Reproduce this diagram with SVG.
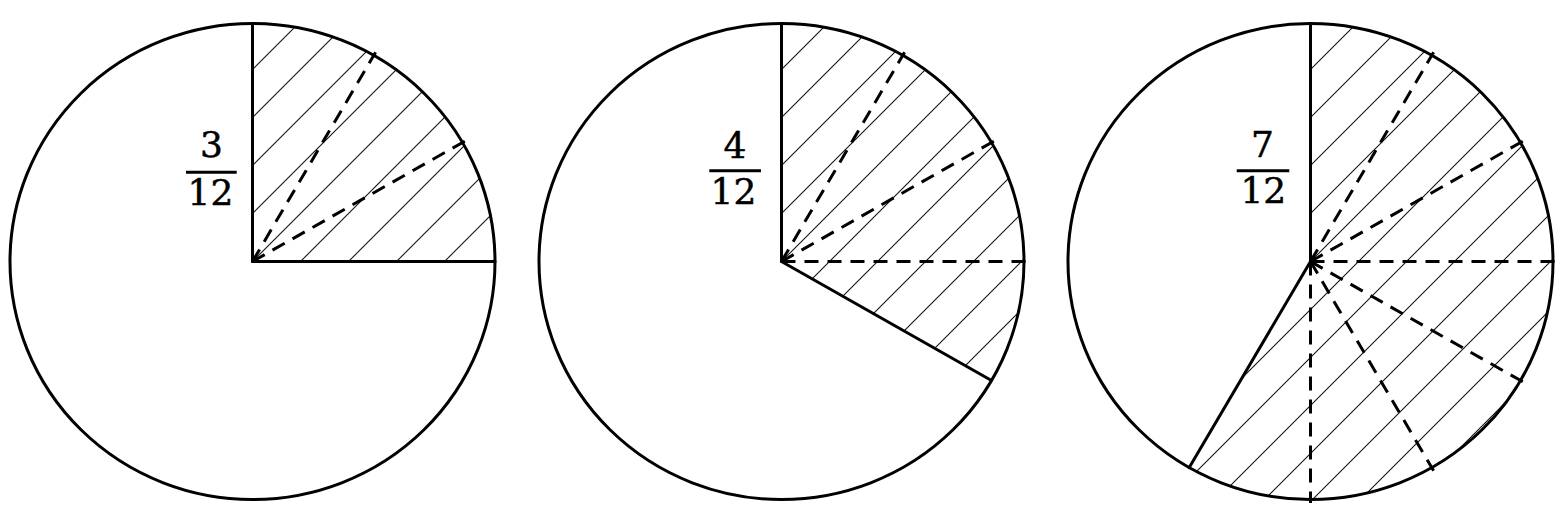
<svg xmlns="http://www.w3.org/2000/svg" width="1565" height="516" viewBox="0 0 1565 516">
<style>
.outline{fill:none;stroke:#000;stroke-width:3}
.solid{fill:none;stroke:#000;stroke-width:3;stroke-linecap:round}
.dash{fill:none;stroke:#000;stroke-width:3;stroke-dasharray:14 9}
.hl line{stroke:#111;stroke-width:1.1}
.num{font-family:"DejaVu Serif","Liberation Serif",serif;font-size:36px;fill:#000;stroke:#000;stroke-width:0.5;text-anchor:middle}
.bar{stroke:#000;stroke-width:3}
</style>
<defs>
<g id="hatchlines" class="hl">
<line x1="-36" y1="-300" x2="-636" y2="300"/>
<line x1="12" y1="-300" x2="-588" y2="300"/>
<line x1="60" y1="-300" x2="-540" y2="300"/>
<line x1="108" y1="-300" x2="-492" y2="300"/>
<line x1="156" y1="-300" x2="-444" y2="300"/>
<line x1="204" y1="-300" x2="-396" y2="300"/>
<line x1="252" y1="-300" x2="-348" y2="300"/>
<line x1="300" y1="-300" x2="-300" y2="300"/>
<line x1="348" y1="-300" x2="-252" y2="300"/>
<line x1="396" y1="-300" x2="-204" y2="300"/>
<line x1="444" y1="-300" x2="-156" y2="300"/>
<line x1="492" y1="-300" x2="-108" y2="300"/>
<line x1="540" y1="-300" x2="-60" y2="300"/>
<line x1="588" y1="-300" x2="-12" y2="300"/>
<line x1="636" y1="-300" x2="36" y2="300"/>
</g>
<clipPath id="sec3"><path d="M0,0 L0,-238 A242.5,238 0 0,1 242.5,0 Z"/></clipPath>
<clipPath id="sec4"><path d="M0,0 L0,-238 A242.5,238 0 0,1 210,119 Z"/></clipPath>
<clipPath id="sec7"><path d="M0,0 L0,-238 A242.5,238 0 1,1 -121.25,206.1 Z"/></clipPath>
</defs>
<rect width="1565" height="516" fill="#fff"/>

<g id="pie-3-12" transform="translate(252.5,261.5)">
<use href="#hatchlines" clip-path="url(#sec3)"/>
<ellipse class="outline" cx="0" cy="0" rx="242.5" ry="238"/>
<g class="dashes">
<line class="dash" x1="0" y1="0" x2="123.1" y2="-209.2"/>
<line class="dash" x1="0" y1="0" x2="213.2" y2="-120.8"/>
</g>
<line class="solid" x1="0" y1="0" x2="0" y2="-238"/>
<line class="solid" x1="0" y1="0" x2="242.5" y2="0"/>
<g id="label-3-12">
<text class="num" x="-41" y="-104.5">3</text>
<line class="bar" x1="-66.5" y1="-89.2" x2="-15.8" y2="-89.2"/>
<text class="num" x="-42" y="-56.5">12</text>
</g>
</g>

<g id="pie-4-12" transform="translate(781.5,261.5)">
<use href="#hatchlines" clip-path="url(#sec4)"/>
<ellipse class="outline" cx="0" cy="0" rx="242.5" ry="238"/>
<g class="dashes">
<line class="dash" x1="0" y1="0" x2="123.1" y2="-209.2"/>
<line class="dash" x1="0" y1="0" x2="213.2" y2="-120.8"/>
<line class="dash" x1="0" y1="0" x2="246" y2="0"/>
</g>
<line class="solid" x1="0" y1="0" x2="0" y2="-238"/>
<line class="solid" x1="0" y1="0" x2="210" y2="119"/>
<g id="label-4-12">
<text class="num" x="-46.5" y="-103.5">4</text>
<line class="bar" x1="-72.2" y1="-90.8" x2="-20.5" y2="-90.8"/>
<text class="num" x="-48" y="-58">12</text>
</g>
</g>

<g id="pie-7-12" transform="translate(1310.5,261.5)">
<use href="#hatchlines" clip-path="url(#sec7)"/>
<ellipse class="outline" cx="0" cy="0" rx="242.5" ry="238"/>
<g class="dashes">
<line class="dash" x1="0" y1="0" x2="123.1" y2="-209.2"/>
<line class="dash" x1="0" y1="0" x2="213.2" y2="-120.8"/>
<line class="dash" x1="0" y1="0" x2="246" y2="0"/>
<line class="dash" x1="0" y1="0" x2="213.2" y2="120.8"/>
<line class="dash" x1="0" y1="0" x2="123.1" y2="209.2"/>
<line class="dash" x1="0" y1="0" x2="0" y2="241.5"/>
</g>
<line class="solid" x1="0" y1="0" x2="0" y2="-238"/>
<line class="solid" x1="0" y1="0" x2="-121.25" y2="206.1"/>
<g id="label-7-12">
<text class="num" x="-48" y="-104.8">7</text>
<line class="bar" x1="-73.8" y1="-90.8" x2="-21.2" y2="-90.8"/>
<text class="num" x="-47.2" y="-58.5">12</text>
</g>
</g>
</svg>
